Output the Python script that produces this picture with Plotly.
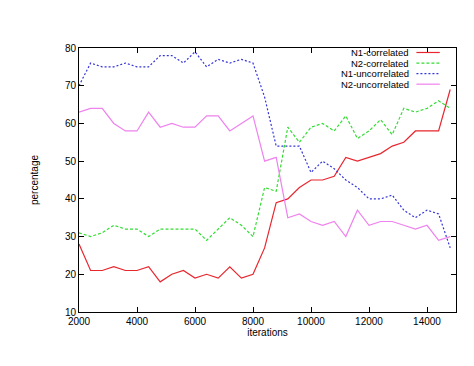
import plotly.graph_objects as go

iterations = list(range(2000, 15000, 400))
n1_corr = [28,21,21,22,21,21,22,18,20,21,19,20,19,22,19,20,27,39,40,43,45,45,46,51,50,51,52,54,55,58,58,58,69]
n2_corr = [31,30,31,33,32,32,30,32,32,32,32,29,32,35,33,30,43,42,59,55,59,60,58,62,56,58,61,57,64,63,64,66,64]
n1_unc = [70,76,75,75,76,75,75,78,78,76,79,75,77,76,77,76,67,54,54,54,47,50,48,45,43,40,40,41,37,35,37,36,27]
n2_unc = [63,64,64,60,58,58,63,59,60,59,59,62,62,58,60,62,50,51,35,36,34,33,34,30,37,33,34,34,33,32,33,29,30]
names = ["N1-correlated", "N2-correlated", "N1-uncorrelated", "N2-uncorrelated"]
x_ticks = [2000, 4000, 6000, 8000, 10000, 12000, 14000]
x_labels = ["2000", "4000", "6000", "8000", "10000", "12000", "14000"]
y_ticks = [10, 20, 30, 40, 50, 60, 70, 80]

styles = [
    dict(color="#e8262e", width=1.2, dash="solid"),
    dict(color="#33dd33", width=1.2, dash="3px,2px"),
    dict(color="#3535d8", width=1.2, dash="2px,2px"),
    dict(color="#ee82ee", width=1.2, dash="solid"),
]

fig = go.Figure()
for name, ys, st in zip(names, [n1_corr, n2_corr, n1_unc, n2_unc], styles):
    fig.add_trace(go.Scatter(x=iterations, y=ys, mode="lines", name=name, line=st, showlegend=False))

# gnuplot-style legend: text right-aligned, sample on the right
row_y = [0.983, 0.943, 0.903, 0.863]
for name, st, yy in zip(names, styles, row_y):
    fig.add_annotation(xref="paper", yref="paper", x=0.8775, y=yy, text=name, showarrow=False,
                       xanchor="right", yanchor="middle", borderpad=0,
                       font=dict(size=9.5, color="black", family="Liberation Sans, Arial, sans-serif"))
    fig.add_shape(type="line", xref="paper", yref="paper", x0=0.895, x1=0.957, y0=yy, y1=yy, line=st)

axis_common = dict(showline=True, linecolor="black", linewidth=1, mirror="ticks", ticks="inside",
                   ticklen=5, tickcolor="black", showgrid=False, zeroline=False,
                   tickfont=dict(size=10, color="black", family="Liberation Sans, Arial, sans-serif"))
fig.update_xaxes(range=[2000, 15000], tickvals=x_ticks, ticktext=x_labels,
                 title=dict(text="iterations", standoff=0, font=dict(size=10, color="black")), **axis_common)
fig.update_yaxes(range=[10, 80], tickvals=y_ticks, title=dict(text="percentage", standoff=24,
                 font=dict(size=10, color="black")), **axis_common)

fig.update_layout(width=474, height=366, margin=dict(l=71, r=26, t=40, b=62),
                  plot_bgcolor="white", paper_bgcolor="white",
                  font=dict(family="Liberation Sans, Arial, sans-serif", color="black"))
fig.write_html("out.html")
